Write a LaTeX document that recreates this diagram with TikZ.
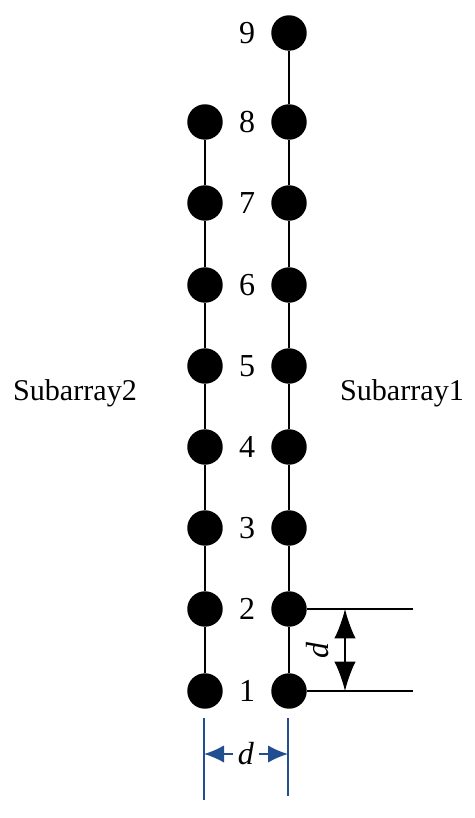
\documentclass[tikz,border=0pt]{standalone}
\usepackage{fontspec}
\setmainfont{Liberation Serif}
\usetikzlibrary{arrows.meta}
\definecolor{dimblue}{RGB}{32,78,145}

\begin{document}
\begin{tikzpicture}[x=0.375pt,y=-0.375pt,
		dot/.style={circle,fill=black,inner sep=0pt,minimum size=13.3pt},
		num/.style={font=\fontsize{12}{14}\selectfont,inner sep=0pt},
		wire/.style={line width=0.5pt}]
			%%%%% START %%%%%
			\useasboundingbox (0,0) rectangle (474,818);
			
			% elements of both columns
			\foreach \n/\y in {1/691,2/609,3/528,4/447,5/366,6/285,7/203,8/122,9/33} {
				\node[dot] (r\n) at (289,\y) {};
				\node[num] (t\n) at (247,\y) {\n};
			}
			\foreach \n/\y in {1/691,2/609,3/528,4/447,5/366,6/285,7/203,8/122}
				\node[dot] (l\n) at (205,\y) {};
			
			\foreach \n in {1,...,8} {
				\pgfmathtruncatemacro{\m}{\n+1}
				\draw[wire] (r\n) -- (r\m);
			}
			\foreach \n in {1,...,7} {
				\pgfmathtruncatemacro{\m}{\n+1}
				\draw[wire] (l\n) -- (l\m);
			}
			
			\node[num, font=\fontsize{11.3}{13}\selectfont] (sub2) at (75,393) {Subarray2};
			\node[num, font=\fontsize{11.3}{13}\selectfont] (sub1) at (402,393) {Subarray1};
			
			% vertical spacing
			\coordinate (e2) at (413,609);
			\coordinate (e1) at (413,691);
			\coordinate (a2) at (345,609);
			\coordinate (a1) at (345,691);
			\draw[wire] (r2.east) -- (e2);
			\draw[wire] (r1.east) -- (e1);
			\draw[line width=0.6pt, {Latex[length=11pt,width=8pt]}-{Latex[length=11pt,width=8pt]}] (a2) -- (a1);
			\node[num, rotate=90] (dv) at (318,650) {\textit{d}};
			
			% horizontal spacing
			\coordinate (bl1) at (204,718);
			\coordinate (bl2) at (204,800);
			\coordinate (br1) at (288,718);
			\coordinate (br2) at (288,796);
			\coordinate (al) at (204,754);
			\coordinate (ar) at (288,754);
			\draw[dimblue, line width=0.6pt] (bl1) -- (bl2);
			\draw[dimblue, line width=0.6pt] (br1) -- (br2);
			\node[num, inner sep=1.5pt] (dh) at (246,754) {\textit{d}};
			\draw[dimblue, line width=0.6pt, -{Latex[length=7.5pt,width=6.5pt]}] (dh.west) -- (al);
			\draw[dimblue, line width=0.6pt, -{Latex[length=7.5pt,width=6.5pt]}] (dh.east) -- (ar);
			
			%%%%% END %%%%%
		\end{tikzpicture}
\end{document}
